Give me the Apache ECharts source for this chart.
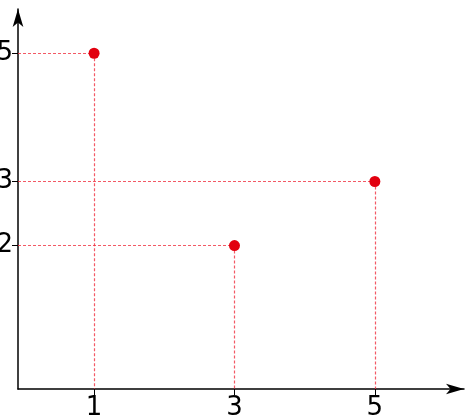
<!DOCTYPE html>
<html>
<head>
<meta charset="utf-8">
<script src="https://cdn.jsdelivr.net/npm/echarts@6/dist/echarts.min.js"></script>
<style>
  html, body { margin: 0; padding: 0; background: #fff; }
  #main { width: 474px; height: 415px; }
</style>
</head>
<body>
<div id="main"></div>
<script>
// points
var xValues = [1, 3, 5];
var yValues = [5, 2, 3];
// tick labels shown on each axis
var xTicks = [1, 3, 5];
var yTicks = [2, 3, 5];
// axis extents (the drawing is not quite to scale, these fit it best)
var xMin = -0.084, xMax = 6.27;
var yMin = -0.236, yMax = 5.69;

var points = xValues.map(function (x, i) { return [x, yValues[i]]; });

var guideStyle = { color: '#f0303e', width: 1.2, type: [3, 2], opacity: 0.8 };
// dashed guides: from y axis to the point, then down to x axis
var guides = [];
points.forEach(function (p) {
  guides.push([{ coord: [xMin, p[1]], lineStyle: guideStyle }, { coord: [p[0], p[1]] }]);
  guides.push([{ coord: [p[0], p[1]], lineStyle: guideStyle }, { coord: [p[0], yMin] }]);
});

var myChart = echarts.init(document.getElementById('main'));
var axisCommon = {
  type: 'value',
  splitLine: { show: false },
  axisLine: {
    show: true,
    onZero: false,
    symbol: ['none', 'arrow'],
    symbolSize: [8, 18],
    lineStyle: { color: '#000', width: 1.5 }
  },
  axisTick: { show: true, length: 6, lineStyle: { color: '#000', width: 1 } },
  axisLabel: {
    color: '#000',
    fontFamily: 'DejaVu Sans',
    fontSize: 26
  }
};

myChart.setOption({
  animation: false,
  grid: { left: 18, right: 10, top: 9, bottom: 26, containLabel: false, outerBoundsMode: 'none' },
  xAxis: echarts.util.merge({
    min: xMin, max: xMax,
    axisTick: { customValues: xTicks },
    axisLabel: { customValues: xTicks, margin: 6 }
  }, axisCommon),
  yAxis: echarts.util.merge({
    min: yMin, max: yMax,
    axisTick: { customValues: yTicks },
    axisLabel: { customValues: yTicks, margin: 5 }
  }, axisCommon),
  series: [{
    type: 'scatter',
    data: points,
    symbolSize: 11,
    itemStyle: { color: '#e2000f', opacity: 1 },
    z: 5,
    markLine: {
      silent: true,
      symbol: ['none', 'none'],
      label: { show: false },
      lineStyle: guideStyle,
      data: guides
    }
  }]
});
</script>
</body>
</html>
